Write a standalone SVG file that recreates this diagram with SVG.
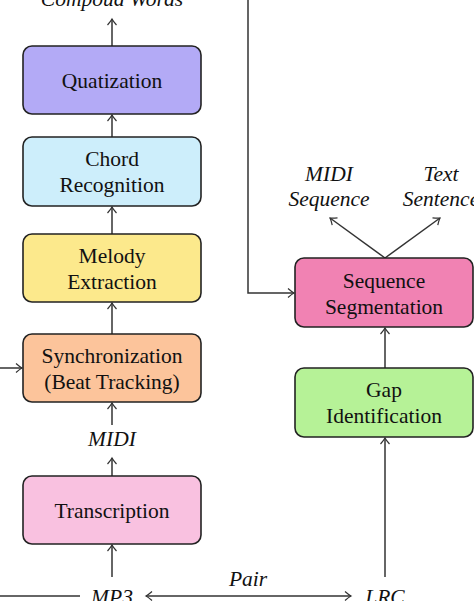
<svg xmlns="http://www.w3.org/2000/svg" width="474" height="601" viewBox="0 0 474 601">
<defs>
<marker id="ah" viewBox="-8 -6 10 12" markerWidth="10" markerHeight="12" refX="0" refY="0" orient="auto" markerUnits="userSpaceOnUse">
<path d="M-6,-4.5 Q-2,-1 0,0 Q-2,1 -6,4.5" fill="none" stroke="#333" stroke-width="1.2"/>
</marker>
<marker id="ahs" viewBox="-8 -6 10 12" markerWidth="10" markerHeight="12" refX="0" refY="0" orient="auto-start-reverse" markerUnits="userSpaceOnUse">
<path d="M-6,-4.5 Q-2,-1 0,0 Q-2,1 -6,4.5" fill="none" stroke="#333" stroke-width="1.2"/>
</marker>
</defs>
<style>
.box{stroke:#222;stroke-width:1.6}
.t{font-family:"Liberation Serif","Times New Roman",serif;font-size:21.5px;fill:#111;text-anchor:middle}
.i{font-style:italic}
.c{fill:none;stroke:#333;stroke-width:1.5}
</style>
<g id="connectors">
<path class="c" d="M112,46 V19" marker-end="url(#ah)"/>
<path class="c" d="M112,137 V115" marker-end="url(#ah)"/>
<path class="c" d="M112,234 V207" marker-end="url(#ah)"/>
<path class="c" d="M112,334 V303" marker-end="url(#ah)"/>
<path class="c" d="M112,425 V403" marker-end="url(#ah)"/>
<path class="c" d="M112,476 V458" marker-end="url(#ah)"/>
<path class="c" d="M112,577 V545" marker-end="url(#ah)"/>
<path class="c" d="M0,368 H22" marker-end="url(#ah)"/>
<path class="c" d="M0,596 H80"/>
<path class="c" d="M146,596 H351" marker-start="url(#ahs)" marker-end="url(#ahs)"/>
<path class="c" d="M248,0 V293 H294" marker-end="url(#ah)"/>
<path class="c" d="M385,577 V438" marker-end="url(#ah)"/>
<path class="c" d="M385,368 V328" marker-end="url(#ah)"/>
<path class="c" d="M385,258 L330,218" marker-end="url(#ah)"/>
<path class="c" d="M385,258 L440,218" marker-end="url(#ah)"/>
</g>
<g id="compound-words"><text class="t i" x="112" y="6">Compoud Words</text></g>
<g id="quatization">
<rect class="box" x="23" y="46" width="178" height="68" rx="9" fill="#b3aaf6"/>
<text class="t" x="112" y="88">Quatization</text>
</g>
<g id="chord-recognition">
<rect class="box" x="23" y="137" width="178" height="69" rx="9" fill="#cdeefb"/>
<text class="t" x="112" y="166">Chord</text>
<text class="t" x="112" y="192">Recognition</text>
</g>
<g id="melody-extraction">
<rect class="box" x="23" y="234" width="178" height="68" rx="9" fill="#fce98c"/>
<text class="t" x="112" y="263">Melody</text>
<text class="t" x="112" y="289">Extraction</text>
</g>
<g id="synchronization">
<rect class="box" x="23" y="334" width="178" height="68" rx="9" fill="#fcc49b"/>
<text class="t" x="112" y="363">Synchronization</text>
<text class="t" x="112" y="389">(Beat Tracking)</text>
</g>
<g id="midi"><text class="t i" x="112" y="446">MIDI</text></g>
<g id="transcription">
<rect class="box" x="23" y="476" width="178" height="68" rx="9" fill="#f9c1e0"/>
<text class="t" x="112" y="518">Transcription</text>
</g>
<g id="mp3"><text class="t i" x="112" y="604">MP3</text></g>
<g id="pair"><text class="t i" x="248" y="586">Pair</text></g>
<g id="lrc"><text class="t i" x="385" y="604">LRC</text></g>
<g id="sequence-segmentation">
<rect class="box" x="295" y="258" width="178" height="69" rx="9" fill="#f182b3"/>
<text class="t" x="384" y="288">Sequence</text>
<text class="t" x="384" y="314">Segmentation</text>
</g>
<g id="gap-identification">
<rect class="box" x="295" y="368" width="178" height="69" rx="9" fill="#b6f297"/>
<text class="t" x="384" y="397">Gap</text>
<text class="t" x="384" y="423">Identification</text>
</g>
<g id="midi-sequence">
<text class="t i" x="329" y="181">MIDI</text>
<text class="t i" x="329" y="206">Sequence</text>
</g>
<g id="text-sentence">
<text class="t i" x="441" y="181">Text</text>
<text class="t i" x="441" y="206">Sentence</text>
</g>
</svg>
